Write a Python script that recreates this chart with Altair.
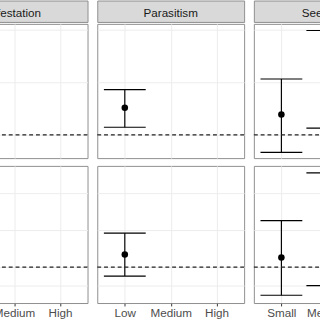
import altair as alt
import pandas as pd

FONT = "Liberation Sans"

# facet names and category levels
facets = ["Infestation", "Parasitism", "Seed size"]
levels = [["Low", "Medium", "High"], ["Low", "Medium", "High"], ["Small", "Medium", "Large"]]

# top row estimates
top_cat = [["Low"], ["Low"], ["Small", "Medium"]]
top_est = [[1.40], [1.03], [0.77, 2.00]]
top_lo = [[0.50], [0.29], [-0.66, 0.26]]
top_hi = [[2.30], [1.72], [2.12, 3.96]]

# bottom row estimates
bot_cat = [["Low"], ["Low"], ["Small", "Medium"]]
bot_est = [[0.50], [0.34], [0.26, 1.00]]
bot_lo = [[-0.20], [-0.24], [-0.76, -0.50]]
bot_hi = [[1.20], [0.92], [1.26, 2.55]]

top_domain = [-0.88, 4.21]
bot_domain = [-0.97, 2.74]
top_grid = [0, 1, 2, 3, 4]
bot_grid = [-0.5, 0, 1, 2]
ref_line = [0]

W, H_TOP, H_BOT = 151, 138, 141
GRID = "#ebebeb"


def panel(i, cats, est, lo, hi, domain, grid_vals, show_labels, h):
    df = pd.DataFrame({"cat": cats, "est": est, "lo": lo, "hi": hi})
    xaxis = alt.Axis(
        title=None, labelAngle=0, labelFont=FONT, labelFontSize=12,
        labelColor="#4d4d4d", tickColor="#333333", tickSize=3, domain=False,
        grid=True, gridColor=GRID, labelPadding=2,
        labels=show_labels, ticks=show_labels,
    )
    xs = alt.X("cat:N", scale=alt.Scale(type="point", domain=levels[i], padding=0.6), axis=xaxis)
    yaxis = alt.Axis(title=None, labels=False, ticks=False, domain=False,
                     grid=True, gridColor=GRID, values=grid_vals)
    yscale = alt.Scale(domain=domain, nice=False, zero=False)
    base = alt.Chart(df)
    rule = base.mark_rule(color="black", strokeWidth=1.2).encode(
        x=xs, y=alt.Y("lo:Q", scale=yscale, axis=yaxis), y2="hi:Q")
    cap_lo = base.mark_tick(color="black", size=43, thickness=1.2, opacity=1).encode(
        x=xs, y=alt.Y("lo:Q", scale=yscale))
    cap_hi = base.mark_tick(color="black", size=43, thickness=1.2, opacity=1).encode(
        x=xs, y=alt.Y("hi:Q", scale=yscale))
    pt = base.mark_circle(color="black", size=45, opacity=1).encode(
        x=xs, y=alt.Y("est:Q", scale=yscale))
    ref = alt.Chart(pd.DataFrame({"y": ref_line})).mark_rule(
        color="#222222", strokeDash=[4, 3], strokeWidth=1.2).encode(
        y=alt.Y("y:Q", scale=yscale))
    return alt.layer(rule, ref, cap_lo, cap_hi, pt).properties(
        width=W, height=h, view=alt.ViewBackground(fill="white", stroke="#8c8c8c"))


def strip(name):
    return alt.Chart(pd.DataFrame({"facet": [name]})).mark_text(
        font=FONT, fontSize=12, color="#1a1a1a", baseline="middle", dy=2
    ).encode(text="facet:N").properties(
        width=W, height=22, view=alt.ViewBackground(fill="#d9d9d9", stroke="#8c8c8c"))


top_cols = []
for i, name in enumerate(facets):
    p = panel(i, top_cat[i], top_est[i], top_lo[i], top_hi[i], top_domain, top_grid, False, H_TOP)
    top_cols.append(alt.vconcat(strip(name), p, spacing=0))
top_row = alt.hconcat(*top_cols, spacing=6).resolve_scale(x="independent", y="independent")

bot_cols = []
for i, name in enumerate(facets):
    bot_cols.append(panel(i, bot_cat[i], bot_est[i], bot_lo[i], bot_hi[i], bot_domain, bot_grid, True, H_BOT))
bot_row = alt.hconcat(*bot_cols, spacing=6).resolve_scale(x="independent", y="independent")

chart = alt.vconcat(top_row, bot_row, spacing=6).resolve_scale(
    x="independent", y="independent"
).properties(
    padding={"left": -63, "top": -5, "right": -85, "bottom": 0},
    background="white",
)

chart.save("out.html", embed_options={"renderer": "svg", "actions": False})
